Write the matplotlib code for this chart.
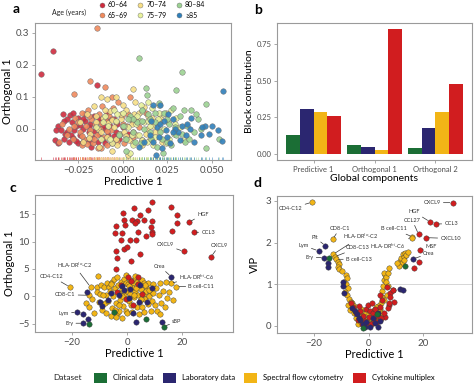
import matplotlib
matplotlib.use('Agg')
import matplotlib.pyplot as plt
from matplotlib.patches import Patch
from matplotlib.lines import Line2D
from matplotlib.ticker import FuncFormatter

plt.rcParams['font.family'] = ['Lato', 'DejaVu Sans']
plt.rcParams['mathtext.fontset'] = 'custom'
plt.rcParams['mathtext.rm'] = 'Lato'
plt.rcParams['axes.unicode_minus'] = True

# ---------------- data: panel a (scores, coloured by age group) ----------------
age_groups = ['60–64', '65–69', '70–74', '75–79', '80–84', '≥85']
age_colors = ['#cf2b3e', '#f08a5d', '#f7df86', '#e8f29c', '#9cd293', '#2f7fba']

a_x_6064 = [-0.0455, -0.0390, -0.0145, -0.0335, -0.0295, -0.0310, -0.0285, -0.0360, -0.0370, -0.0345,
            -0.0380, -0.0360, -0.0330, -0.0320, -0.0300, -0.0280, -0.0270, -0.0260, -0.0250, -0.0240,
            -0.0230, -0.0220, -0.0210, -0.0200, -0.0190, -0.0180, -0.0170, -0.0160, -0.0150, -0.0140,
            -0.0130, -0.0120, -0.0110, -0.0100, -0.0090, -0.0080, -0.0070, -0.0060, -0.0050, -0.0040,
            -0.0030, -0.0020, 0.0000, 0.0030, 0.0060, -0.0250, -0.0210, -0.0175, -0.0275,
            -0.0330, -0.0290, -0.0260, -0.0220, -0.0190, -0.0160, -0.0130, -0.0100, -0.0080, -0.0050,
            -0.0310, -0.0240, -0.0180, -0.0110]
a_y_6064 = [0.170, 0.243, 0.137, 0.045, 0.042, 0.030, 0.020, 0.010, -0.002, -0.005,
            -0.035, -0.045, -0.030, -0.015, -0.040, -0.028, -0.005, 0.010, 0.035, -0.020,
            -0.045, 0.000, 0.025, -0.035, -0.010, 0.015, -0.025, 0.040, 0.005, -0.040,
            -0.015, 0.020, -0.030, 0.000, 0.050, -0.020, 0.010, -0.045, 0.030, -0.010,
            0.015, -0.030, 0.005, -0.015, 0.020, -0.045, 0.045, -0.055, 0.050,
            0.025, -0.020, -0.038, 0.030, 0.005, -0.008, 0.032, -0.045, 0.028, -0.022,
            -0.010, 0.012, -0.040, 0.008]
a_x_6569 = [-0.0143, -0.0185, -0.0270, -0.0097, -0.0355, -0.0340, -0.0300, -0.0280, -0.0265, -0.0250,
            -0.0240, -0.0225, -0.0215, -0.0205, -0.0195, -0.0185, -0.0175, -0.0165, -0.0155, -0.0145,
            -0.0135, -0.0125, -0.0115, -0.0105, -0.0095, -0.0085, -0.0075, -0.0065, -0.0055, -0.0045,
            -0.0035, -0.0025, -0.0015, -0.0005, 0.0010, 0.0025, 0.0040, 0.0055, 0.0070, 0.0090,
            0.0110, 0.0130, -0.0230, -0.0120, -0.0060,
            -0.0310, -0.0270, -0.0230, -0.0190, -0.0160, -0.0120, -0.0090, -0.0060, -0.0030, 0.0000,
            0.0030, 0.0060, -0.0140, -0.0200]
a_y_6569 = [0.315, 0.148, 0.110, 0.131, -0.040, 0.015, 0.000, -0.030, 0.035, 0.020,
            -0.010, 0.050, -0.030, 0.010, 0.060, -0.005, 0.030, -0.045, 0.015, -0.020,
            0.045, 0.000, 0.070, -0.025, 0.025, -0.050, 0.040, -0.005, 0.065, -0.035,
            0.020, 0.085, -0.015, 0.040, -0.045, 0.010, 0.100, -0.025, 0.030, 0.005,
            -0.035, 0.050, -0.050, -0.060, 0.100,
            -0.018, 0.008, -0.022, 0.040, -0.030, 0.018, -0.008, 0.030, -0.040, 0.015,
            0.045, -0.010, -0.060, -0.048]
a_x_7074 = [0.0056, -0.0086, -0.0035, -0.0120, -0.0240, -0.0220, -0.0200, -0.0180, -0.0160, -0.0140,
            -0.0130, -0.0110, -0.0090, -0.0070, -0.0050, -0.0030, -0.0010, 0.0005, 0.0020, 0.0035,
            0.0050, 0.0065, 0.0080, 0.0095, 0.0110, 0.0120, 0.0135, 0.0150, 0.0165, 0.0180,
            0.0200, 0.0220, 0.0240, -0.0150, -0.0060, 0.0000, 0.0030, 0.0070, -0.0100, 0.0140,
            -0.0190, -0.0150, -0.0120, -0.0080, -0.0040, -0.0010, 0.0020, 0.0060, 0.0090, 0.0130,
            0.0170, 0.0210, -0.0060, 0.0040]
a_y_7074 = [0.124, 0.093, 0.098, 0.100, 0.020, -0.040, 0.045, -0.015, 0.070, 0.000,
            -0.055, 0.035, -0.025, 0.055, 0.005, -0.050, 0.030, -0.010, 0.060, -0.035,
            0.015, 0.045, -0.020, 0.025, -0.050, 0.068, 0.000, -0.030, 0.035, -0.010,
            0.020, -0.040, 0.050, 0.020, -0.070, 0.075, -0.080, 0.085, 0.060, 0.040,
            -0.028, 0.040, -0.010, 0.018, -0.032, 0.045, -0.022, -0.045, 0.050, -0.015,
            0.008, 0.035, 0.028, 0.030]
a_x_7579 = [0.0140, -0.0150, -0.0120, -0.0100, -0.0080, -0.0060, -0.0040, -0.0020, 0.0000, 0.0015,
            0.0030, 0.0045, 0.0060, 0.0075, 0.0090, 0.0105, 0.0120, 0.0135, 0.0150, 0.0165,
            0.0180, 0.0195, 0.0210, 0.0225, 0.0240, 0.0255, 0.0270, 0.0285, 0.0300, 0.0320,
            0.0340, 0.0040, 0.0100, 0.0200, -0.0050,
            -0.0110, -0.0070, -0.0030, 0.0010, 0.0050, 0.0080, 0.0110, 0.0140, 0.0170, 0.0200,
            0.0230, 0.0260, 0.0290]
a_y_7579 = [0.085, 0.005, -0.030, 0.040, 0.010, -0.045, 0.025, -0.015, 0.050, -0.030,
            0.005, 0.035, -0.050, 0.015, -0.020, 0.055, 0.020, -0.040, 0.010, 0.065,
            -0.025, 0.030, -0.005, 0.045, -0.045, 0.020, 0.060, -0.015, 0.035, 0.005,
            -0.035, -0.075, 0.075, 0.075, 0.060,
            0.020, -0.030, 0.045, 0.010, -0.020, 0.040, -0.035, 0.025, -0.050, 0.050,
            0.000, -0.030, 0.015]
a_x_8084 = [0.0090, 0.0330, 0.0130, 0.0135, 0.0295, 0.0465, 0.0465, 0.0540, 0.0225, 0.0020,
            0.0000, 0.0020, 0.0040, 0.0060, 0.0080, 0.0100, 0.0120, 0.0140, 0.0160, 0.0180,
            0.0200, 0.0210, 0.0230, 0.0250, 0.0260, 0.0280, 0.0300, 0.0320, 0.0340, 0.0360,
            0.0380, 0.0400, 0.0420, 0.0190, 0.0110, 0.0060, -0.0020, 0.0270, 0.0150, 0.0350,
            0.0030, 0.0070, 0.0110, 0.0150, 0.0180, 0.0220, 0.0250, 0.0290, 0.0330, 0.0370,
            0.0410, 0.0440]
a_y_8084 = [0.222, 0.178, 0.128, 0.105, 0.120, 0.078, -0.060, -0.030, -0.075, -0.070,
            0.010, -0.030, 0.040, -0.010, 0.020, -0.045, 0.000, 0.045, -0.030, 0.020,
            0.080, -0.010, 0.050, -0.040, 0.015, 0.065, -0.020, 0.040, 0.060, 0.010,
            0.060, -0.010, 0.030, -0.055, 0.060, 0.030, -0.020, -0.050, 0.030, -0.040,
            0.030, -0.040, 0.025, -0.010, 0.050, -0.030, 0.030, 0.005, -0.015, -0.030,
            0.045, 0.000]
a_x_85 = [0.0560, 0.0555, 0.0530, 0.0480, 0.0460, 0.0445, 0.0440, 0.0380, 0.0375, 0.0355,
          0.0330, 0.0310, 0.0290, 0.0280, 0.0265, 0.0255, 0.0240, 0.0230, 0.0210, 0.0200,
          0.0190, 0.0170, 0.0160, 0.0150, 0.0170, 0.0220, 0.0185, 0.0120, 0.0090,
          0.0210, 0.0250, 0.0280, 0.0320, 0.0360, 0.0400, 0.0500]
a_y_85 = [0.118, -0.038, -0.005, -0.015, 0.010, 0.005, -0.020, 0.035, 0.000, -0.020,
          0.010, -0.010, 0.000, -0.010, -0.045, 0.045, -0.005, 0.025, 0.075, -0.025,
          0.005, -0.040, 0.025, -0.020, 0.075, -0.060, -0.080, -0.040, -0.055,
          0.015, -0.025, 0.030, -0.035, 0.015, -0.040, 0.010]

# ---------------- data: panel b (block contributions) ----------------
components = ['Predictive 1', 'Orthogonal 1', 'Orthogonal 2']
datasets = ['Clinical data', 'Laboratory data', 'Spectral flow cytometry', 'Cytokine multiplex']
dataset_colors = ['#1b6e35', '#2b2670', '#f2b516', '#d11d1f']
contrib_clinical = [0.13, 0.06, 0.04]
contrib_laboratory = [0.31, 0.05, 0.18]
contrib_spectral = [0.29, 0.03, 0.29]
contrib_cytokine = [0.26, 0.855, 0.48]

# ---------------- data: panel c (loadings: predictive 1 vs orthogonal 1) ----------------
c_x_clinical = [-13.9, 13.3, 6.7, -4.6]
c_y_clinical = [-5.0, -5.5, -4.1, -2.9]
c_x_lab = [-18.3, -16.0, -16.0, -14.5, -14.3, -9.7, -9.1, -7.0, -6.0, -3.0, -1.7, -1.2, 0.6, 1.2,
           2.2, 3.4, 4.2, 4.6, 7.3, 9.1, 12.5, 16.0]
c_y_lab = [-2.9, -4.9, -3.2, 0.8, -4.1, -1.1, -1.7, -0.6, 0.7, 0.3, 1.9, 1.2, -0.3, 1.4,
           -3.1, -4.6, -1.1, 2.1, -1.1, 1.5, -4.6, 3.6]
c_x_spectral = [-20.8, -13.3, -13.8, 15.8, 17.9, -11.9, -10.5, -10.9, -9.5, -8.4, -7.3, -6.5, -5.5, -4.8,
                -3.6, -2.2, -1.3, -0.5, 0.3, 1.1, 2.0, 2.8, 3.6, 4.4, 5.3, 6.0, 6.8, 7.7, 8.6,
                -9.0, -8.2, -7.5, -6.8, -6.2, -5.6, -5.0, -4.5, -4.0, -3.5, -3.0, -2.5, -2.0, -1.5,
                -1.0, -0.5, 0.0, 0.5, 1.0, 1.5, 2.0, 2.5, 3.0, 3.5, 4.0, 4.5, 5.0, 5.5, 6.0, 6.5,
                7.0, 7.5, 8.0, 8.5, 9.0, 9.5, 10.2, 11.0, 11.5, 12.2, 13.0, 13.8, 14.5, 15.2, 16.5,
                12.0, 10.5, -15.0, -14.0, -12.6, -11.0, -10.2, -9.8, -8.8, -7.8, -6.0, -4.2, -2.8,
                -1.8, -0.2, 1.8, 4.2, 6.2, -3.3, 0.8, 3.2, 6.5, -1.8, 2.6, 5.0, -3.0, -6.0, 7.8,
                9.5, -0.3, 3.0, -4.5, 11.8, 14.0]
c_y_spectral = [1.7, 1.7, 0.2, 2.4, 1.8, -3.0, 3.7, 1.8, 2.0, 1.7, 2.4, 1.8, 2.6, 3.2,
                3.6, 2.6, 3.2, 2.5, 2.2, 3.0, 2.5, 3.3, 2.7, 2.2, 3.0, 2.4, 1.8, 2.5, 0.6,
                -2.5, -1.2, 0.3, -0.8, 1.0, -2.2, 0.0, 1.5, -1.2, -3.3, 0.6, -0.7, 1.3, -1.8,
                0.2, -2.6, 1.0, -0.8, 0.4, -1.6, 1.6, -0.2, 0.9, -2.0, 0.3, -0.9, 1.3, -1.9, 0.5, -0.5,
                0.9, -1.4, 0.0, -2.6, -0.8, 0.7, -1.6, -2.6, 0.3, -1.2, 1.0, -1.9, -0.3, 0.8, -0.6,
                2.5, 1.5, -1.2, -2.0, -0.4, 0.8, -1.0, 0.5, 0.2, -3.0, -3.5, -3.7, -2.6,
                -3.9, -3.0, -2.8, -3.3, -2.9, 2.0, 1.9, 1.5, 2.0, 0.0, 0.2, -0.4, -1.5, 2.2, 1.2,
                2.3, 3.9, 3.8, -2.4, -3.3, 2.6]
c_x_cytokine = [9.1, 15.8, 2.4, 7.5, -1.6, 4.8, 18.2, -1.2, 1.8, 3.6, 6.1, 9.1, -4.2, -0.6, 2.7,
                18.2, 22.4, -4.5, -1.8, 4.0, 9.1, 8.5, 16.4, 24.2, -2.2, 1.0, 3.4, 6.9, 9.1,
                -1.2, 0.0, -3.9, 4.6, 20.6, 30.5, 1.5, -4.2, -3.6,
                -2.2, 1.4, 3.9, -0.5, 2.0, 5.5, -3.5, 0.3, 3.9]
c_y_cytokine = [17.3, 16.4, 16.2, 15.8, 15.3, 14.9, 14.9, 14.0, 14.0, 13.7, 14.0, 13.8, 12.9, 13.1, 13.4,
                13.4, 13.5, 11.5, 11.5, 11.8, 11.8, 12.7, 12.0, 11.7, 10.2, 10.3, 10.2, 11.0, 11.4,
                8.6, 9.0, 8.2, 7.8, 8.2, 7.2, 6.5, 5.0, 7.0,
                2.1, 2.8, 2.3, -0.5, -1.5, 0.5, 0.8, 3.5, 3.6]

# ---------------- data: panel d (VIP vs predictive 1) ----------------
d_x_clinical = [-14.5, 13.3, -2.0, 3.0]
d_y_clinical = [1.64, 1.45, -0.04, 0.28]
d_x_lab = [-15.9, -18.3, -16.3, -14.8, -14.8, -9.5, -9.5, -9.2, -6.0, -5.0, -4.2, -3.0, -2.2, -1.5,
           -0.8, 0.5, 1.5, 2.5, 3.5, 3.6, 11.5, 12.6, 16.4, 4.0, -3.6]
d_y_lab = [1.93, 1.80, 1.64, 1.50, 1.42, 1.05, 0.95, 0.78, 0.42, 0.35, 0.28, 0.15, 0.05, -0.02,
           0.10, -0.03, 0.20, 0.08, 0.30, -0.02, 0.89, 0.86, 1.61, 0.12, 0.20]
d_x_spectral = [-20.8, -13.2, -13.0, -12.5, -12.0, 16.0, 15.8,
                -11.4, -11.0, -11.4, -10.8, -9.9, -8.3, -8.1, -9.0, -8.3, -7.7, -8.6, -8.1, -7.3,
                -6.5, -7.7, -6.9, -5.7, -4.7, -4.0, -6.0, -5.2, -5.5, -4.5, -3.5, -3.0, -2.5, -2.0,
                -1.5, -1.0, -0.5, 0.0, 0.5, 1.0, 1.5, 2.0, 2.5, 3.0, 3.5, 4.0, 4.3, 4.6, 5.0, 5.0,
                4.8, 5.2, 5.5, 6.0, 5.6, 6.5, 7.0, 7.5, 6.2, 7.2, 5.8, 6.8, 3.6, 11.5, 12.0, 12.5,
                12.8, 13.3, 12.2, 13.0, 11.0, 13.8, 14.5, 10.5, -3.8, -2.8, -1.8, 2.8, 1.8, -0.8, 0.3]
d_y_spectral = [2.97, 2.08, 1.72, 1.66, 1.60, 2.14, 2.12,
                1.54, 1.49, 1.42, 1.37, 1.33, 1.22, 1.14, 1.05, 1.00, 0.90, 0.82, 0.74, 0.65,
                0.58, 0.50, 0.38, 0.42, 0.34, 0.26, 0.55, 0.30, 0.48, 0.18, 0.12, 0.28, 0.08, 0.22,
                0.05, 0.15, 0.02, 0.10, 0.04, 0.18, 0.06, 0.25, 0.12, 0.32, 0.20, 0.40, 0.15, 0.55, 0.30, 0.70,
                0.85, 0.95, 1.10, 1.22, 1.28, 1.18, 1.27, 1.38, 1.05, 0.95, 0.62, 0.75, 0.48, 1.55, 1.62, 1.72,
                1.66, 1.75, 1.50, 1.58, 1.45, 1.70, 1.78, 1.50, 0.05, 0.40, 0.32, 0.45, 0.38, 0.30, 0.28]
d_x_cytokine = [30.8, 22.5, 24.7, 18.3, 21.0, 18.8, 18.6, 16.7, 9.0, 7.8, 9.3, 7.6, 7.2, 6.0,
                6.7, 9.1, 7.9, 7.3, 5.5, -4.5, -3.8, -3.0, -2.5, -2.0, -1.5, -1.0, -0.5, 0.0, 0.5,
                1.0, 1.5, 2.0, 2.5, 3.0, 3.5, 4.0, 4.5, -0.2, 1.2, -3.5, -5.8, -6.5, 5.0, 4.2]
d_y_cytokine = [2.96, 2.50, 2.45, 2.20, 2.12, 1.82, 1.54, 1.38, 0.86, 0.78, 0.58, 0.50, 0.42, 0.22,
                0.94, 0.86, 0.70, 0.54, 0.30, 0.30, 0.15, 0.35, 0.05, 0.25, 0.12, 0.40, 0.08, 0.22, 0.35,
                0.05, 0.30, 0.15, 0.40, 0.10, 0.25, 0.45, 0.20, 0.50, 0.55, 0.48, 0.45, 0.55, 0.62, 0.75]

# labels: (text, point x, point y, text x, text y, ha)
c_labels = [('HGF', 22.4, 13.5, 25.5, 15.0, 'left'),
            ('CCL3', 24.2, 11.7, 27.0, 11.7, 'left'),
            ('CXCL9', 20.6, 8.2, 17.0, 9.4, 'right'),
            ('CXCL9', 30.5, 7.2, 33.5, 9.3, 'center'),
            ('Crea', 16.0, 3.6, 14.0, 5.5, 'right'),
            ('HLA-DR$^{hi}$-C6', 15.8, 2.4, 19.0, 3.5, 'left'),
            ('B cell-C11', 17.9, 1.8, 22.3, 1.8, 'left'),
            ('sBP', 13.3, -5.5, 16.4, -4.6, 'left'),
            ('HLA-DR$^{lo}$-C2', -13.3, 1.7, -12.7, 5.6, 'right'),
            ('CD4-C12', -20.8, 1.7, -23.0, 3.6, 'right'),
            ('CD8-C1', -13.8, 0.2, -18.8, 0.3, 'right'),
            ('Lym', -18.3, -2.9, -21.2, -3.1, 'right'),
            ('Ery', -16.0, -4.9, -19.6, -4.9, 'right')]
d_labels = [('CD4-C12', -20.8, 2.97, -24.3, 2.82, 'right'),
            ('CD8-C1', -13.2, 2.08, -10.6, 2.34, 'center'),
            ('Plt', -15.9, 1.93, -18.6, 2.13, 'right'),
            ('Lym', -18.3, 1.80, -22.0, 1.93, 'right'),
            ('Ery', -16.3, 1.64, -20.2, 1.64, 'right'),
            ('HLA-DR$^{lo}$-C2', -13.0, 1.72, -9.5, 2.14, 'left'),
            ('CD8-C13', -12.5, 1.66, -8.3, 1.88, 'left'),
            ('B cell-C13', -12.0, 1.60, -8.3, 1.60, 'left'),
            ('CXCL9', 30.8, 2.96, 26.4, 2.96, 'right'),
            ('HGF', 22.5, 2.50, 16.6, 2.74, 'center'),
            ('CCL3', 24.7, 2.45, 27.8, 2.45, 'left'),
            ('CCL27', 18.3, 2.20, 16.0, 2.54, 'center'),
            ('B cell-C11', 16.0, 2.14, 13.9, 2.33, 'right'),
            ('CXCL10', 21.0, 2.12, 26.3, 2.10, 'left'),
            ('HLA-DR$^{hi}$-C6', 15.8, 2.12, 13.6, 1.92, 'right'),
            ('MSF', 18.8, 1.82, 21.0, 1.90, 'left'),
            ('Crea', 16.4, 1.61, 20.0, 1.74, 'left')]

# ---------------- figure ----------------
W, H = 474, 390
fig = plt.figure(figsize=(W / 100, H / 100), dpi=100)


def ax_px(l, t, r, b):
    return fig.add_axes([l / W, 1 - b / H, (r - l) / W, (b - t) / H])


FRAME = '#9a9a9a'
TICKLAB = '#4d4d4d'


def style(ax, labelsize=7):
    for s in ax.spines.values():
        s.set_color(FRAME)
        s.set_linewidth(0.8)
    ax.tick_params(colors=FRAME, labelcolor=TICKLAB, labelsize=labelsize,
                   length=2.5, width=0.6, pad=1.5)


axa = ax_px(35, 23, 231, 160)
axb = ax_px(277, 23, 472, 160)
axc = ax_px(35, 195, 233, 332)
axd = ax_px(277, 196, 472, 333)

# ---- panel a ----
a_groups = [(a_x_6064, a_y_6064), (a_x_6569, a_y_6569), (a_x_7074, a_y_7074),
            (a_x_7579, a_y_7579), (a_x_8084, a_y_8084), (a_x_85, a_y_85)]
for (gx, gy), col in zip(a_groups, age_colors):
    axa.vlines(gx, 0, 0.025, transform=axa.get_xaxis_transform(), colors=col, lw=0.6, alpha=0.6)
for (gx, gy), col in zip(a_groups, age_colors):
    axa.scatter(gx, gy, s=16, c=col, edgecolors='#6b6b6b', linewidths=0.35, alpha=0.9, zorder=3)
axa.set_xlim(-0.049, 0.0605)
axa.set_ylim(-0.097, 0.33)
axa.set_xticks([-0.025, 0.0, 0.025, 0.050])
axa.xaxis.set_major_formatter(FuncFormatter(lambda v, p: f'{v:.3f}'.replace('-', '−')))
axa.set_yticks([0.0, 0.1, 0.2, 0.3])
axa.yaxis.set_major_formatter(FuncFormatter(lambda v, p: f'{v:.1f}'))
style(axa)
axa.set_xlabel('Predictive 1', fontsize=8, labelpad=1)
axa.set_ylabel('Orthogonal 1', fontsize=8, labelpad=2)

age_handles = [Line2D([], [], marker='o', ls='none', markersize=3.6, markerfacecolor=c,
                      markeredgecolor='#6b6b6b', markeredgewidth=0.3) for c in age_colors]
fig.legend(age_handles, age_groups, ncol=3, loc='center left',
           bbox_to_anchor=(99 / W, 1 - 10 / H), frameon=False, fontsize=5,
           handlelength=0.8, handletextpad=0.45, columnspacing=1.4, labelspacing=0.45,
           borderpad=0, borderaxespad=0)
fig.text(52 / W, 1 - 12.5 / H, 'Age (years)', fontsize=5, va='center', ha='left', color='#222222')

# ---- panel b ----
bar_vals = [contrib_clinical, contrib_laboratory, contrib_spectral, contrib_cytokine]
bw = 0.225
for i, (vals, col) in enumerate(zip(bar_vals, dataset_colors)):
    xs = [j - 0.45 + bw / 2 + i * bw for j in range(len(components))]
    axb.bar(xs, vals, width=bw, color=col, linewidth=0)
axb.set_xlim(-0.6, 2.6)
axb.set_ylim(-0.04, 0.893)
axb.set_xticks(range(len(components)))
axb.set_xticklabels(components)
axb.set_yticks([0, 0.25, 0.5, 0.75])
axb.yaxis.set_major_formatter(FuncFormatter(lambda v, p: f'{v:.2f}'))
style(axb, labelsize=5.5)
axb.set_xlabel('Global components', fontsize=7.5, labelpad=1)
axb.set_ylabel('Block contribution', fontsize=7.5, labelpad=2)

# ---- panel c ----
LAB_COL = '#333333'
LAB_FS = 4.1
c_sets = [(c_x_spectral, c_y_spectral, dataset_colors[2]), (c_x_cytokine, c_y_cytokine, dataset_colors[3]),
          (c_x_lab, c_y_lab, dataset_colors[1]), (c_x_clinical, c_y_clinical, dataset_colors[0])]
for gx, gy, col in c_sets:
    axc.scatter(gx, gy, s=15, c=col, edgecolors='#3a3a3a', linewidths=0.3, zorder=3)
for t, px, py, tx, ty, ha in c_labels:
    axc.annotate(t, xy=(px, py), xytext=(tx, ty), fontsize=LAB_FS, color=LAB_COL, ha=ha, va='center',
                 arrowprops=dict(arrowstyle='-', color=LAB_COL, lw=0.5, shrinkA=0, shrinkB=2), zorder=4)
axc.set_xlim(-33.5, 38.5)
axc.set_ylim(-6.5, 18.5)
axc.set_xticks([-20, 0, 20])
axc.set_yticks([-5, 0, 5, 10, 15])
style(axc)
axc.set_xlabel('Predictive 1', fontsize=8, labelpad=1)
axc.set_ylabel('Orthogonal 1', fontsize=8, labelpad=2)

# ---- panel d ----
axd.axhline(1, color='#d0d0d0', lw=0.6, zorder=0)
d_sets = [(d_x_spectral, d_y_spectral, dataset_colors[2]), (d_x_cytokine, d_y_cytokine, dataset_colors[3]),
          (d_x_lab, d_y_lab, dataset_colors[1]), (d_x_clinical, d_y_clinical, dataset_colors[0])]
for gx, gy, col in d_sets:
    axd.scatter(gx, gy, s=15, c=col, edgecolors='#3a3a3a', linewidths=0.3, zorder=3)
for t, px, py, tx, ty, ha in d_labels:
    axd.annotate(t, xy=(px, py), xytext=(tx, ty), fontsize=LAB_FS, color=LAB_COL, ha=ha, va='center',
                 arrowprops=dict(arrowstyle='-', color=LAB_COL, lw=0.5, shrinkA=0, shrinkB=2), zorder=4)
axd.set_xlim(-33.6, 37.9)
axd.set_ylim(-0.17, 3.12)
axd.set_xticks([-20, 0, 20])
axd.set_yticks([0, 1, 2, 3])
style(axd)
axd.set_xlabel('Predictive 1', fontsize=8, labelpad=1)
axd.set_ylabel('VIP', fontsize=8, labelpad=4)

# ---- panel letters ----
for letter, (x, y) in zip('abcd', [(13, 9), (254, 10), (10, 188), (254, 183)]):
    fig.text(x / W, 1 - y / H, letter, fontsize=10, fontweight='bold', va='center', ha='left')

# ---- dataset legend ----
ds_handles = [Patch(facecolor=c, edgecolor='none') for c in dataset_colors]
fig.legend(ds_handles, datasets, ncol=4, loc='center left', bbox_to_anchor=(94 / W, 1 - 378 / H),
           frameon=False, fontsize=5.5, handlelength=1.7, handleheight=1.7, handletextpad=0.8,
           columnspacing=1.2, borderpad=0, borderaxespad=0)
fig.text(53 / W, 1 - 378 / H, 'Dataset', fontsize=6, va='center', ha='left', color='#222222')

fig.savefig('out.png', dpi=100)
